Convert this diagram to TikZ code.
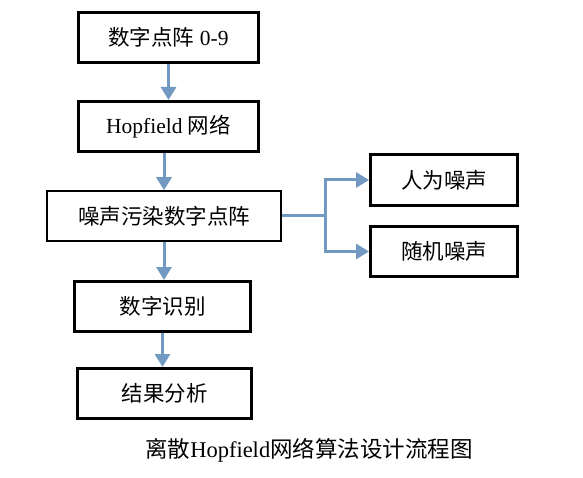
\documentclass[tikz,border=0pt]{standalone}
\usepackage{fontspec}
\setmainfont{Liberation Serif}
\newfontfamily\cjk{Noto Sans CJK SC}
\usetikzlibrary{arrows.meta, positioning, calc}

\definecolor{arrblue}{RGB}{113,153,193}

\begin{document}
\begin{tikzpicture}[
  x=1pt, y=-1pt,
  box/.style={rectangle, draw, line width=3pt, minimum height=50pt, align=center, font=\fontsize{21.5}{26}\selectfont, inner sep=2pt},
  thinbox/.style={box, line width=1.6pt},
  arr/.style={-{Triangle[length=13pt, width=15pt]}, line width=3pt, arrblue},
  lin/.style={line width=3pt, arrblue},
]
  \useasboundingbox (0,0) rectangle (583,478);

  % Nodes
  \node[box, minimum width=180pt] (digits) at (168.5,37.5) {{\cjk 数字点阵} 0-9};
  \node[box, minimum width=180pt] (hop) at (168.5,126.5) {Hopfield {\cjk 网络}};
  \node[thinbox, minimum width=234pt] (noisy) at (164,216) {\cjk 噪声污染数字点阵};
  \node[box, minimum width=147pt, minimum height=51pt] (manual) at (444,180) {\cjk 人为噪声};
  \node[box, minimum width=147pt] (random) at (444,251.5) {\cjk 随机噪声};
  \node[box, minimum width=176pt] (recog) at (162.5,306.5) {\cjk 数字识别};
  \node[box, minimum width=174pt] (result) at (164.5,393.5) {\cjk 结果分析};
  \coordinate (split) at (325,216);

  % Arrows
  \draw[arr] (digits) -- (hop);
  \draw[arr] (hop.south -| noisy.north) -- (noisy);
  \draw[arr] (noisy) -- (noisy.south |- recog.north);
  \draw[arr] (recog) -- (recog.south |- result.north);
  \draw[lin] (noisy.east) -- (split);
  \draw[arr] (split) |- (manual.west);
  \draw[arr] (split) |- (random.west);

  % Caption
  \node[font=\fontsize{22.5}{27}\selectfont] (title) at (309,450) {{\cjk 离散}Hopfield{\cjk 网络算法设计流程图}};
\end{tikzpicture}
\end{document}
